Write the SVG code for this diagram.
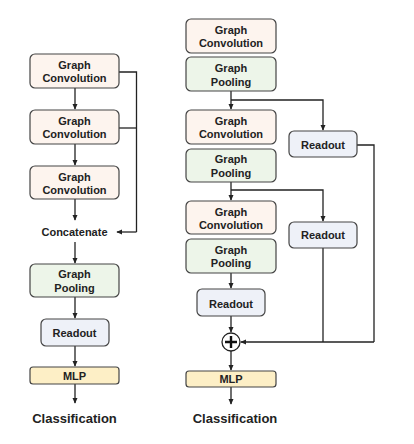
<svg xmlns="http://www.w3.org/2000/svg" width="414" height="444" viewBox="0 0 414 444">
<defs>
<marker id="ah" viewBox="0 0 8 8" refX="7" refY="4" markerWidth="6" markerHeight="6" markerUnits="userSpaceOnUse" orient="auto"><path d="M0,0.5 L8,4 L0,7.5 z" fill="#222"/></marker>
<style>
.gc{fill:#fdf4ee;stroke:#444;stroke-width:1.2}
.gp{fill:#edf5e9;stroke:#444;stroke-width:1.2}
.ro{fill:#eef1f8;stroke:#444;stroke-width:1.2}
.mlp{fill:#fdefc6;stroke:#444;stroke-width:1.2}
text{font-family:"Liberation Sans",Arial,sans-serif;font-weight:bold;font-size:11px;fill:#222;text-anchor:middle}
.big{font-size:13px}
.c{fill:none;stroke:#222;stroke-width:1.3}
.a{marker-end:url(#ah)}
</style>
</defs>
<rect width="414" height="444" fill="#fff"/>
<g id="connectors">
<!-- left column -->
<path class="c a" d="M75,88 V109"/>
<path class="c a" d="M75,144 V165"/>
<path class="c a" d="M75,199 V220"/>
<path class="c" d="M119,72 H136.5 V232"/>
<path class="c" d="M119,128 H136.5"/>
<path class="c a" d="M136.5,232 H117"/>
<path class="c a" d="M75,242 V263"/>
<path class="c a" d="M75,297 V318"/>
<path class="c a" d="M75,346 V366"/>
<path class="c a" d="M75,384 V403"/>
<!-- right column -->
<path class="c a" d="M231,91 V109"/>
<path class="c a" d="M231,100 H323 V130"/>
<path class="c" d="M357,145 H374 V342"/>
<path class="c a" d="M231,182 V200"/>
<path class="c a" d="M231,190 H323 V221"/>
<path class="c" d="M323,248 V342"/>
<path class="c a" d="M231,273 V288"/>
<path class="c a" d="M231,316 V332"/>
<path class="c a" d="M374,342 H241"/>
<path class="c a" d="M231,351 V370"/>
<path class="c a" d="M231,387 V404"/>
</g>
<g id="l-gc1"><rect class="gc" x="30" y="54" width="89" height="34" rx="5"/><text x="74.5" y="69">Graph</text><text x="74.5" y="82">Convolution</text></g>
<g id="l-gc2"><rect class="gc" x="30" y="110" width="89" height="34" rx="5"/><text x="74.5" y="125">Graph</text><text x="74.5" y="138">Convolution</text></g>
<g id="l-gc3"><rect class="gc" x="30" y="166" width="89" height="33" rx="5"/><text x="74.5" y="181">Graph</text><text x="74.5" y="194">Convolution</text></g>
<g id="l-concat"><text x="74.5" y="236">Concatenate</text></g>
<g id="l-gp"><rect class="gp" x="30" y="264" width="89" height="33" rx="5"/><text x="74.5" y="278">Graph</text><text x="74.5" y="292">Pooling</text></g>
<g id="l-ro"><rect class="ro" x="41" y="319" width="68" height="27" rx="5"/><text x="74.5" y="337">Readout</text></g>
<g id="l-mlp"><rect class="mlp" x="30" y="367" width="89" height="17" rx="3"/><text x="74.5" y="380">MLP</text></g>
<g id="l-cls"><text class="big" x="74.5" y="423">Classification</text></g>

<g id="r-gc1"><rect class="gc" x="186" y="19" width="90" height="34" rx="5"/><text x="231" y="34">Graph</text><text x="231" y="47">Convolution</text></g>
<g id="r-gp1"><rect class="gp" x="186" y="57" width="90" height="34" rx="5"/><text x="231" y="72">Graph</text><text x="231" y="86">Pooling</text></g>
<g id="r-gc2"><rect class="gc" x="186" y="110" width="90" height="34" rx="5"/><text x="231" y="125">Graph</text><text x="231" y="138">Convolution</text></g>
<g id="r-gp2"><rect class="gp" x="186" y="149" width="90" height="33" rx="5"/><text x="231" y="163">Graph</text><text x="231" y="177">Pooling</text></g>
<g id="r-gc3"><rect class="gc" x="186" y="201" width="90" height="33" rx="5"/><text x="231" y="216">Graph</text><text x="231" y="229">Convolution</text></g>
<g id="r-gp3"><rect class="gp" x="186" y="239" width="90" height="34" rx="5"/><text x="231" y="254">Graph</text><text x="231" y="267">Pooling</text></g>
<g id="r-ro1"><rect class="ro" x="289" y="131" width="68" height="26" rx="5"/><text x="323" y="149">Readout</text></g>
<g id="r-ro2"><rect class="ro" x="289" y="222" width="68" height="26" rx="5"/><text x="323" y="239">Readout</text></g>
<g id="r-ro3"><rect class="ro" x="197" y="289" width="68" height="27" rx="5"/><text x="231" y="308">Readout</text></g>
<g id="r-sum"><circle cx="231" cy="342" r="9" fill="#fff" stroke="#222" stroke-width="1.3"/><path d="M225,342 H237 M231,336 V348" stroke="#111" stroke-width="2.4"/></g>
<g id="r-mlp"><rect class="mlp" x="186" y="371" width="90" height="16" rx="3"/><text x="231" y="383">MLP</text></g>
<g id="r-cls"><text class="big" x="235" y="423">Classification</text></g>
</svg>
